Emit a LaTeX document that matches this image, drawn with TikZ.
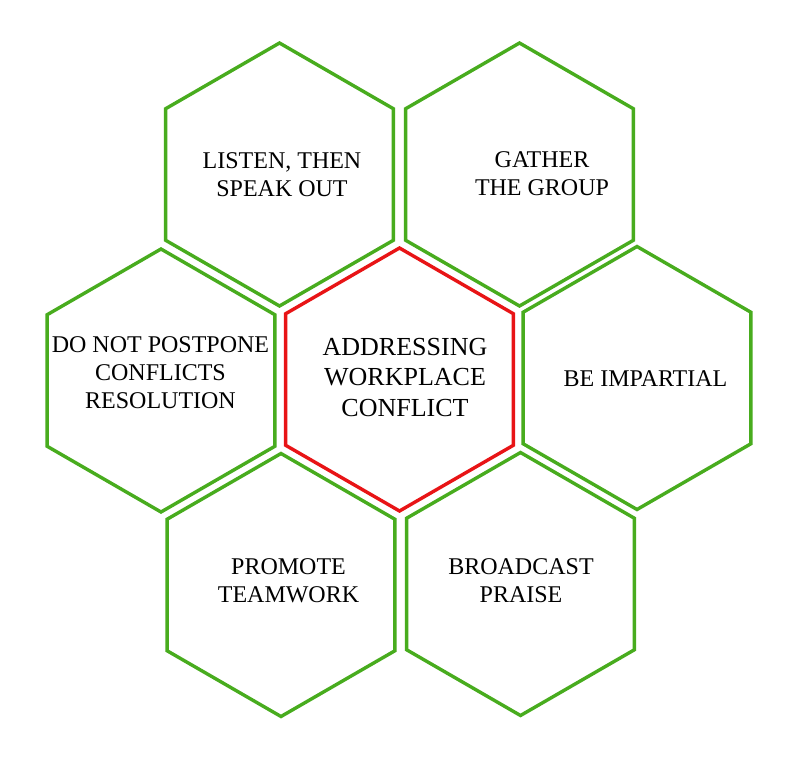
\documentclass[tikz,border=0pt]{standalone}
\usepackage{fontspec}
\setmainfont{Liberation Serif}
\usetikzlibrary{calc}
\definecolor{hexgreen}{RGB}{72,172,30}
\definecolor{hexred}{RGB}{232,20,22}
\tikzset{
  hexline/.style={line width=3.4pt, line join=miter},
  greenhex/.style={hexline, draw=hexgreen},
  redhex/.style={hexline, draw=hexred},
  lbl/.style={anchor=base, align=center, inner sep=0pt, text=black,
    font=\fontsize{24}{28}\selectfont},
  mainlbl/.style={lbl, font=\fontsize{26}{30.5}\selectfont}
}
\begin{document}
\begin{tikzpicture}[x=1pt,y=-1pt]
\useasboundingbox (0,0) rectangle (800,776);
\fill[white] (0,0) rectangle (800,776);
% centers
\coordinate (cTL) at (279.5,174.5);
\coordinate (cTR) at (519.5,174.5);
\coordinate (cML) at (161,380.5);
\coordinate (cC)  at (399.5,379.5);
\coordinate (cMR) at (637,378);
\coordinate (cBL) at (281,585);
\coordinate (cBR) at (520.5,584);
% hexagons (pointy top): vertices at top, sides vertical
\foreach \c in {cTL,cTR,cML,cMR,cBL,cBR}{
  \draw[greenhex] ($(\c)+(0,-131.5)$) -- ($(\c)+(113.9,-65.75)$) -- ($(\c)+(113.9,65.75)$) -- ($(\c)+(0,131.5)$) -- ($(\c)+(-113.9,65.75)$) -- ($(\c)+(-113.9,-65.75)$) -- cycle;
}
\draw[redhex] ($(cC)+(0,-131.5)$) -- ($(cC)+(113.9,-65.75)$) -- ($(cC)+(113.9,65.75)$) -- ($(cC)+(0,131.5)$) -- ($(cC)+(-113.9,65.75)$) -- ($(cC)+(-113.9,-65.75)$) -- cycle;
% labels (base anchor = baseline of last line)
\node[lbl] (tTL) at (282,196) {LISTEN, THEN\\SPEAK OUT};
\node[lbl] (tTR) at (542,195.7) {GATHER\\THE GROUP};
\node[lbl] (tML) at (160.5,408) {DO NOT POSTPONE\\CONFLICTS\\RESOLUTION};
\node[mainlbl] (tC) at (405,416) {ADDRESSING\\WORKPLACE\\CONFLICT};
\node[lbl] (tMR) at (645.5,386) {BE IMPARTIAL};
\node[lbl] (tBL) at (288.5,602.3) {PROMOTE\\TEAMWORK};
\node[lbl] (tBR) at (521,602) {BROADCAST\\PRAISE};
\end{tikzpicture}
\end{document}
